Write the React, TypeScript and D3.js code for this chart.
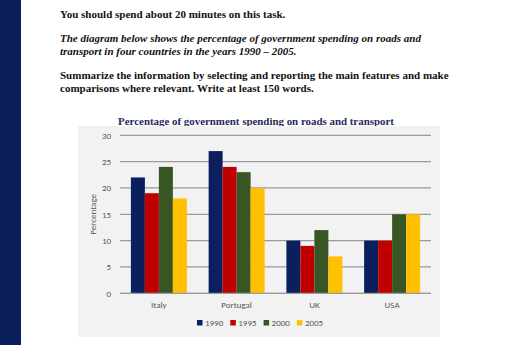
import React, { useEffect, useRef } from 'react';
import * as d3 from 'd3';

const countries = ['Italy', 'Portugal', 'UK', 'USA'];
const years = ['1990', '1995', '2000', '2005'];
const spend1990 = [22, 27, 10, 10];
const spend1995 = [19, 24, 9, 10];
const spend2000 = [24, 23, 12, 15];
const spend2005 = [18, 20, 7, 15];
const yTicks = [0, 5, 10, 15, 20, 25, 30];
const colors = ['#0b1f5e', '#c00000', '#375623', '#ffc000'];

const W = 512;
const H = 345;

export default function App() {
  const svgRef = useRef<SVGSVGElement>(null);

  useEffect(() => {
    const svg = d3.select(svgRef.current);
    svg.selectAll('*').remove();

    // navy strip on the left edge of the page
    svg.append('rect').attr('x', 0).attr('y', 0).attr('width', 21).attr('height', H).attr('fill', '#0a1f5c');

    // task text
    const txt = svg.append('g')
      .style('font-family', '"Liberation Serif", "Times New Roman", serif')
      .style('font-size', '11px')
      .style('font-weight', 'bold')
      .attr('fill', '#111');
    txt.append('text').attr('x', 60).attr('y', 18).text('You should spend about 20 minutes on this task.');
    txt.append('text').attr('x', 60).attr('y', 42).style('font-style', 'italic')
      .text('The diagram below shows the percentage of government spending on roads and');
    txt.append('text').attr('x', 60).attr('y', 55).style('font-style', 'italic')
      .text('transport in four countries in the years 1990 \u2013 2005.');
    txt.append('text').attr('x', 60).attr('y', 79)
      .text('Summarize the information by selecting and reporting the main features and make');
    txt.append('text').attr('x', 60).attr('y', 92)
      .text('comparisons where relevant. Write at least 150 words.');

    svg.append('text')
      .attr('x', 256).attr('y', 125)
      .attr('text-anchor', 'middle')
      .style('font-family', '"Liberation Serif", "Times New Roman", serif')
      .style('font-size', '10.9px')
      .style('font-weight', 'bold')
      .attr('fill', '#1f2a5c')
      .text('Percentage of government spending on roads and transport');

    // chart panel
    svg.append('rect').attr('x', 78).attr('y', 126).attr('width', 362).attr('height', 211).attr('fill', '#f2f2f2');

    const plotL = 120, plotR = 431, plotT = 135.3, plotB = 293.3;

    const x = d3.scaleBand().domain(countries).range([plotL, plotR]).paddingInner(0.28).paddingOuter(0.14);
    const xs = d3.scaleBand().domain(years).range([0, x.bandwidth()]);
    const y = d3.scaleLinear().domain([0, 30]).range([plotB, plotT]);

    const font = 'Carlito, Calibri, "Liberation Sans", sans-serif';

    // gridlines
    svg.append('g').selectAll('line').data(yTicks).join('line')
      .attr('x1', plotL).attr('x2', plotR)
      .attr('y1', d => y(d)).attr('y2', d => y(d))
      .attr('stroke', '#9a9a9a').attr('stroke-width', 1.2);

    const yAxis = svg.append('g')
      .attr('transform', `translate(${plotL - 7},0)`)
      .call(d3.axisLeft(y).tickValues(yTicks).tickSize(0).tickPadding(2));
    yAxis.select('.domain').remove();
    yAxis.selectAll('text').style('font-family', font).style('font-size', '9px').attr('fill', '#595959');

    svg.append('text')
      .attr('transform', `translate(96,${(plotT + plotB) / 2}) rotate(-90)`)
      .attr('text-anchor', 'middle')
      .style('font-family', font).style('font-size', '9px').attr('fill', '#595959')
      .text('Percentage');

    const series = [spend1990, spend1995, spend2000, spend2005];
    series.forEach((vals, si) => {
      svg.append('g').selectAll('rect').data(vals).join('rect')
        .attr('x', (d, i) => (x(countries[i]) ?? 0) + (xs(years[si]) ?? 0))
        .attr('width', xs.bandwidth())
        .attr('y', d => y(d))
        .attr('height', d => plotB - y(d))
        .attr('fill', colors[si]);
    });

    // baseline drawn over bars
    svg.append('line').attr('x1', plotL).attr('x2', plotR).attr('y1', plotB).attr('y2', plotB)
      .attr('stroke', '#9a9a9a').attr('stroke-width', 1.2);

    const xAxis = svg.append('g')
      .attr('transform', `translate(0,${plotB})`)
      .call(d3.axisBottom(x).tickSize(0).tickPadding(8));
    xAxis.select('.domain').remove();
    xAxis.selectAll('text').style('font-family', font).style('font-size', '9px').attr('fill', '#595959');

    // legend
    const legend = svg.append('g').selectAll('g').data(years).join('g')
      .attr('transform', (d, i) => `translate(${197 + i * 33.3},320)`);
    legend.append('rect').attr('width', 5.5).attr('height', 5.5).attr('fill', (d, i) => colors[i]);
    legend.append('text').attr('x', 8).attr('y', 6)
      .style('font-family', font).style('font-size', '9px').attr('fill', '#595959')
      .text(d => d);
  }, []);

  return (
    <svg ref={svgRef} width={W} height={H} style={{ position: 'absolute', left: 0, top: 0, background: '#fff' }} />
  );
}
